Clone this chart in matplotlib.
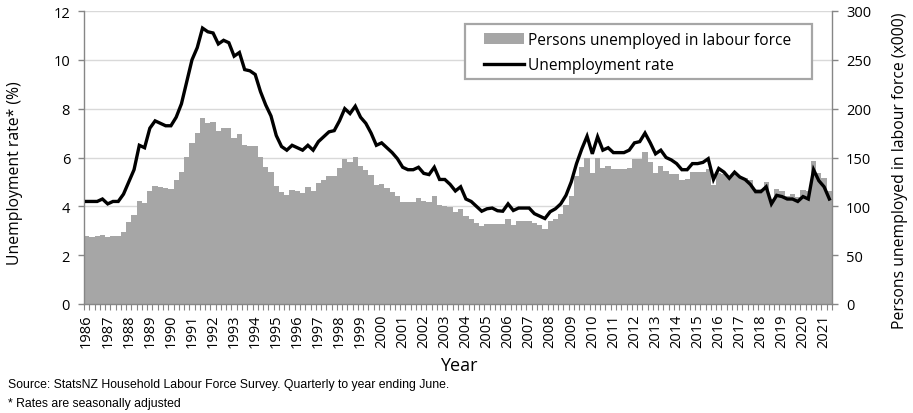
import numpy as np
import matplotlib.pyplot as plt
from matplotlib.patches import Patch, Rectangle
from matplotlib.lines import Line2D

years = [str(y) for y in range(1986, 2022)]

# Unemployment rate (%), quarterly 1986 Q1 - 2021 Q2
rate = [
    4.2, 4.2, 4.2, 4.3,
    4.1, 4.2, 4.2, 4.5,
    5.0, 5.5, 6.5, 6.4,
    7.2, 7.5, 7.4, 7.3,
    7.3, 7.65, 8.2, 9.1,
    10.0, 10.5, 11.3, 11.15,
    11.1, 10.65, 10.8, 10.7,
    10.15, 10.3, 9.6, 9.55,
    9.4, 8.7, 8.15, 7.7,
    6.9, 6.45, 6.3, 6.5,
    6.4, 6.3, 6.5, 6.3,
    6.65, 6.85, 7.05, 7.1,
    7.5, 8.0, 7.8, 8.1,
    7.65, 7.4, 7.0, 6.5,
    6.6, 6.4, 6.2, 5.95,
    5.6, 5.5, 5.5, 5.6,
    5.35, 5.3, 5.6, 5.1,
    5.1, 4.9, 4.63, 4.8,
    4.3, 4.2, 4.0, 3.8,
    3.9, 3.93, 3.82, 3.8,
    4.1, 3.83, 3.93, 3.93,
    3.93, 3.7, 3.6, 3.5,
    3.78, 3.9, 4.1, 4.45,
    5.0, 5.75, 6.35, 6.87,
    6.15, 6.85, 6.3, 6.4,
    6.2, 6.2, 6.2, 6.3,
    6.6, 6.65, 7.0, 6.6,
    6.15, 6.3, 6.0, 5.9,
    5.75, 5.5, 5.5, 5.75,
    5.75, 5.8, 5.95, 5.1,
    5.55, 5.4, 5.15, 5.4,
    5.2, 5.1, 4.9, 4.6,
    4.6, 4.8, 4.1, 4.45,
    4.4, 4.3, 4.3, 4.2,
    4.4, 4.3, 5.5, 5.05,
    4.8, 4.3,
]

# Persons unemployed in labour force (000)
persons = [
    70, 69, 70, 70.6,
    69, 69.6, 69.6, 74,
    83.6, 91.4, 105.7, 103.7,
    116, 121, 120, 118.7,
    117.7, 127, 135, 150.7,
    165, 175, 190.7, 185.6,
    186, 177, 180, 180,
    170, 174, 163, 161.7,
    161.7, 150.8, 140.6, 134.8,
    121, 114.3, 112, 116.7,
    115.3, 113.6, 119.4, 115.3,
    123.8, 127, 131.4, 131.4,
    139, 148.4, 145, 150.8,
    141.6, 137, 132.4, 122,
    122.8, 118.7, 114.3, 110.2,
    104.7, 104.7, 104.7, 108.5,
    105.7, 104.7, 110.8, 101.6,
    100, 99, 93.9, 97.2,
    89.8, 87, 82.9, 80.2,
    81.5, 81.5, 81.5, 81.5,
    87, 81.2, 85.3, 84.6,
    85.3, 82.9, 80.9, 76.8,
    84.6, 87, 92, 101.3,
    110.9, 131.4, 140.6, 150,
    134, 150, 139, 141,
    138, 138, 138, 139,
    148.4, 148.4, 155.9, 145.7,
    134, 141, 136.5, 133,
    133, 126.9, 128, 135.4,
    135.4, 135.4, 138, 121.8,
    134, 133, 129.7, 133,
    131.3, 129, 127.2, 117.7,
    117.7, 124.6, 107.5, 117.7,
    115.3, 110.2, 112.6, 109.2,
    116.7, 116, 146, 134,
    128.6, 116,
]

rate_ticks = [0, 2, 4, 6, 8, 10, 12]
persons_ticks = [0, 50, 100, 150, 200, 250, 300]

FONT = ['Open Sans', 'DejaVu Sans']
NARROW = ['Liberation Sans Narrow', 'Liberation Sans', 'DejaVu Sans']
plt.rcParams['font.family'] = FONT

BAR = '#A6A6A6'
AXC = '#868686'
GRID = '#D9D9D9'
TXT = '#000000'

W, H = 913, 414
n = len(rate)
x = np.arange(n)

fig = plt.figure(figsize=(W / 100, H / 100), dpi=100)
ax_l = fig.add_axes([84 / W, 1 - 305 / H, 748 / W, 293 / H])
ax_p = ax_l.twinx()

# bars on right axis
ax_p.bar(x, persons, width=1.0, color=BAR, linewidth=0, zorder=2)
ax_p.set_ylim(0, 300)
ax_p.set_yticks(persons_ticks)
ax_p.yaxis.grid(True, color=GRID, linewidth=1.0, zorder=0)
ax_p.set_axisbelow(True)

# line on left axis
ax_l.plot(x, rate, color='black', linewidth=2.4, solid_joinstyle='miter', zorder=3)
ax_l.set_ylim(0, 12)
ax_l.set_yticks(rate_ticks)
ax_l.set_xlim(-0.5, n - 0.5)

ax_l.set_zorder(2)
ax_p.set_zorder(1)
ax_l.patch.set_visible(False)

for a in (ax_l, ax_p):
    a.spines['top'].set_visible(False)
    for s in ('left', 'right', 'bottom'):
        a.spines[s].set_color(AXC)
        a.spines[s].set_linewidth(1.0)
ax_l.spines['right'].set_visible(False)
ax_p.spines['left'].set_visible(False)
ax_p.spines['bottom'].set_visible(False)

ax_l.tick_params(axis='y', colors=AXC, labelcolor=TXT, labelsize=10.5, length=4, width=1, pad=6)
ax_p.tick_params(axis='y', colors=AXC, labelcolor=TXT, labelsize=10.5, length=4, width=1, pad=6)

ax_l.set_xticks(x[::4])
ax_l.set_xticklabels(years, rotation=90, fontsize=10.5, color=TXT)
ax_l.tick_params(axis='x', which='major', length=0, pad=7)
ax_l.set_xticks(np.arange(-0.5, n, 1), minor=True)
ax_l.tick_params(axis='x', which='minor', length=4, width=0.8, color=AXC)

fig.text(15 / W, 1 - 173 / H, 'Unemployment rate* (%)', fontsize=11.3,
         rotation=90, ha='center', va='center')
fig.text(900 / W, 1 - 171 / H, 'Persons unemployed in labour force (x000)', fontsize=11.3,
         rotation=90, ha='center', va='center')
fig.text(459 / W, 1 - 366 / H, 'Year', fontsize=13, ha='center', va='center')

# legend
ax_l.add_patch(Rectangle((465 / W, 1 - 80 / H), (812 - 465) / W, 55 / H,
                         transform=fig.transFigure, facecolor='white',
                         edgecolor=BAR, linewidth=1.6, zorder=4, clip_on=False))
handles = [Patch(facecolor=BAR, edgecolor='none'),
           Line2D([0], [0], color='black', linewidth=2.4)]
labels = ['Persons unemployed in labour force', 'Unemployment rate']
leg = ax_l.legend(handles, labels, loc='upper left',
                  bbox_to_anchor=(484 / W, 1 - 33 / H),
                  bbox_transform=fig.transFigure,
                  fontsize=11.2, frameon=False,
                  handlelength=2.55, handletextpad=0.3, labelspacing=0.6,
                  borderpad=0, borderaxespad=0)
leg.set_zorder(10)

fig.text(8 / W, 1 - 385 / H, 'Source: StatsNZ Household Labour Force Survey. Quarterly to year ending June.',
         fontsize=8.8, family=NARROW, va='center', ha='left')
fig.text(8 / W, 1 - 404 / H, '* Rates are seasonally adjusted',
         fontsize=8.8, family=NARROW, va='center', ha='left')

fig.savefig('out.png', dpi=100)
